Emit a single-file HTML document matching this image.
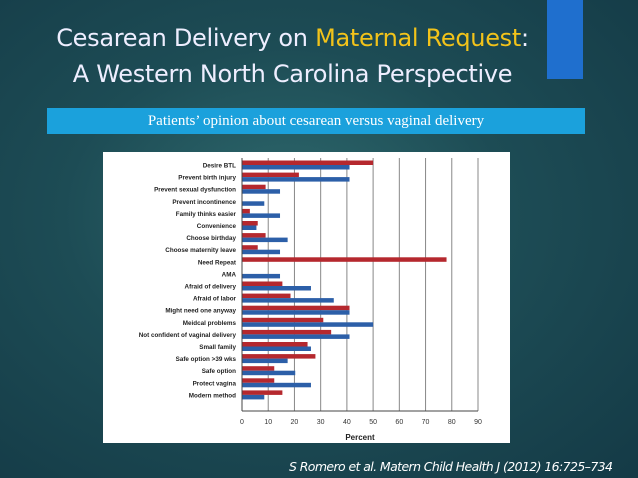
<!DOCTYPE html>
<html><head><meta charset="utf-8"><style>
html,body{margin:0;padding:0;}
body{width:638px;height:478px;overflow:hidden;position:relative;font-family:"Liberation Sans",sans-serif;
background:radial-gradient(ellipse at 45% 45%,#2f6a6e 0%,#1d4c55 45%,#143a46 100%);}
.t{position:absolute;left:0;width:585px;text-align:center;color:#eef;font-size:24px;font-family:"DejaVu Sans","Liberation Sans",sans-serif;letter-spacing:-0.3px;white-space:nowrap}
</style></head><body>
<div style="position:absolute;left:547px;top:0;width:36px;height:79px;background:#1f6fce"></div>
<div class="t" style="top:24px">Cesarean Delivery on <span style="color:#f2c31a">Maternal Request</span>:</div>
<div class="t" style="top:60px">A Western North Carolina Perspective</div>
<div style="position:absolute;left:47px;top:108px;width:538px;height:26px;background:#1ba1dc;color:#fff;font-family:'Liberation Serif',serif;font-size:15px;line-height:26px;text-align:center;white-space:nowrap">Patients’ opinion about cesarean versus vaginal delivery</div>
<svg style="position:absolute;left:0;top:0" width="638" height="478">
<rect x="103" y="152" width="407" height="291" fill="#fff"/>
<g id="g"></g>
</svg>
<div style="position:absolute;left:289px;top:459px;color:#fff;font-style:italic;font-size:12.5px;font-family:'DejaVu Sans','Liberation Sans',sans-serif;letter-spacing:-0.6px;white-space:nowrap">S Romero et al. Matern Child Health J (2012) 16:725–734</div>
<script>
const categories=["Desire BTL","Prevent birth injury","Prevent sexual dysfunction","Prevent incontinence","Family thinks easier","Convenience","Choose birthday","Choose maternity leave","Need Repeat","AMA","Afraid of delivery","Afraid of labor","Might need one anyway","Meidcal problems","Not confident of vaginal delivery","Small family","Safe option >39 wks","Safe option","Protect vagina","Modern method"];
const redValues=[50,21.7,9,0,3,6,9,6,78,0,15.4,18.5,41,31,34,25,28,12.3,12.3,15.4];
const blueValues=[41,41,14.5,8.5,14.5,5.5,17.4,14.5,0,14.5,26.3,35,41,50,41,26.3,17.4,20.3,26.3,8.5];
const ticks=[0,10,20,30,40,50,60,70,80,90];
const NS="http://www.w3.org/2000/svg",g=document.getElementById('g');
const x=v=>242+v*(478-242)/90;
const rowY=i=>165+i*12.1;
function el(t,a){const e=document.createElementNS(NS,t);for(const k in a)e.setAttribute(k,a[k]);g.appendChild(e);return e;}
ticks.forEach(t=>{
 if(t>0){const l=el('line',{x1:x(t),x2:x(t),y1:158,y2:411,stroke:'#888','stroke-width':1});
 
 }
 const tx=el('text',{x:x(t),y:424,'font-size':7,'text-anchor':'middle',fill:'#333'});tx.textContent=t;
 
 
});
categories.forEach((c,i)=>{
 const y=rowY(i);
 const r=el('rect',{x:x(0),y:y-4.5,width:x(redValues[i])-x(0),height:4.5,fill:'#b5282e'});
 
 
 const b=el('rect',{x:x(0),y:y,width:x(blueValues[i])-x(0),height:4.5,fill:'#2c5fa8'});
 
 
 const t=el('text',{x:236,y:y+2.5,'font-size':6.3,'text-anchor':'end',fill:'#222','font-weight':'bold'});t.textContent=c;
 
 
});
const ax=el('line',{x1:x(0),x2:x(0),y1:158,y2:411,stroke:'#444'});


const bx=el('line',{x1:x(0),x2:x(90),y1:411,y2:411,stroke:'#444'});


const pt=el('text',{x:360,y:440,'font-size':8,'text-anchor':'middle','font-weight':'bold',fill:'#222'});pt.textContent='Percent';


</script>
</body></html>
